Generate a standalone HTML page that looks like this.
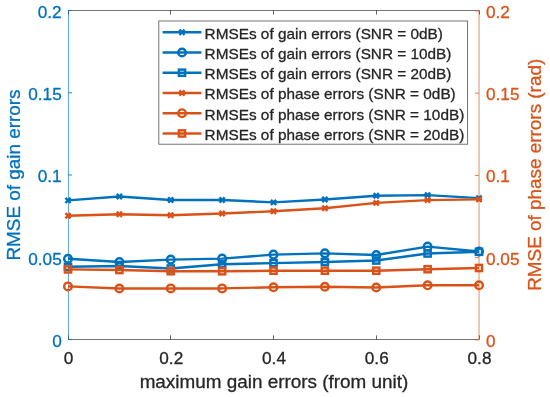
<!DOCTYPE html>
<html><head><meta charset="utf-8"><style>
html,body{margin:0;padding:0;background:#fff;}
svg{display:block;font-family:'Liberation Sans', Arial, sans-serif;}
text{stroke-width:0.3px;}
</style></head><body>
<svg width="550" height="397" viewBox="0 0 550 397">
<rect width="550" height="397" fill="#fff"/>
<line x1="68.0" y1="10.5" x2="479.0" y2="10.5" stroke="#262626" stroke-width="0.85" stroke-opacity="0.75"/>
<line x1="68.0" y1="339.5" x2="479.0" y2="339.5" stroke="#262626" stroke-width="0.85" stroke-opacity="0.75"/>
<line x1="68.50" y1="339.5" x2="68.50" y2="335.4" stroke="#262626" stroke-width="1" stroke-opacity="0.72"/>
<line x1="68.50" y1="10.5" x2="68.50" y2="14.6" stroke="#262626" stroke-width="1" stroke-opacity="0.72"/>
<line x1="170.50" y1="339.5" x2="170.50" y2="335.4" stroke="#262626" stroke-width="1" stroke-opacity="0.72"/>
<line x1="170.50" y1="10.5" x2="170.50" y2="14.6" stroke="#262626" stroke-width="1" stroke-opacity="0.72"/>
<line x1="273.50" y1="339.5" x2="273.50" y2="335.4" stroke="#262626" stroke-width="1" stroke-opacity="0.72"/>
<line x1="273.50" y1="10.5" x2="273.50" y2="14.6" stroke="#262626" stroke-width="1" stroke-opacity="0.72"/>
<line x1="376.50" y1="339.5" x2="376.50" y2="335.4" stroke="#262626" stroke-width="1" stroke-opacity="0.72"/>
<line x1="376.50" y1="10.5" x2="376.50" y2="14.6" stroke="#262626" stroke-width="1" stroke-opacity="0.72"/>
<line x1="479.50" y1="339.5" x2="479.50" y2="335.4" stroke="#262626" stroke-width="1" stroke-opacity="0.72"/>
<line x1="479.50" y1="10.5" x2="479.50" y2="14.6" stroke="#262626" stroke-width="1" stroke-opacity="0.72"/>
<line x1="68.5" y1="10.0" x2="68.5" y2="340.0" stroke="#0072BD" stroke-width="1.1" stroke-opacity="0.6"/>
<line x1="479.05" y1="10.0" x2="479.05" y2="340.0" stroke="#D95319" stroke-width="1.2" stroke-opacity="0.55"/>
<line x1="68.0" y1="339.50" x2="72.0" y2="339.50" stroke="#0072BD" stroke-width="0.85"/>
<line x1="479.0" y1="339.90" x2="474.9" y2="339.90" stroke="#D95319" stroke-width="0.9" stroke-opacity="0.8"/>
<line x1="68.0" y1="257.25" x2="72.0" y2="257.25" stroke="#0072BD" stroke-width="0.85"/>
<line x1="479.0" y1="257.65" x2="474.9" y2="257.65" stroke="#D95319" stroke-width="0.9" stroke-opacity="0.8"/>
<line x1="68.0" y1="175.00" x2="72.0" y2="175.00" stroke="#0072BD" stroke-width="0.85"/>
<line x1="479.0" y1="175.40" x2="474.9" y2="175.40" stroke="#D95319" stroke-width="0.9" stroke-opacity="0.8"/>
<line x1="68.0" y1="92.75" x2="72.0" y2="92.75" stroke="#0072BD" stroke-width="0.85"/>
<line x1="479.0" y1="93.15" x2="474.9" y2="93.15" stroke="#D95319" stroke-width="0.9" stroke-opacity="0.8"/>
<line x1="68.0" y1="10.50" x2="72.0" y2="10.50" stroke="#0072BD" stroke-width="0.85"/>
<line x1="479.0" y1="10.90" x2="474.9" y2="10.90" stroke="#D95319" stroke-width="0.9" stroke-opacity="0.8"/>
<polyline points="68.00,200.40 119.38,196.50 170.75,200.00 222.12,200.00 273.50,202.40 324.88,199.50 376.25,195.70 427.62,195.10 479.00,198.10" stroke="#0072BD" stroke-width="2.45" fill="none" stroke-linejoin="round"/><path d="M65.40 197.80L70.60 203.00M65.40 203.00L70.60 197.80" stroke="#0072BD" stroke-width="2.45" fill="none"/><path d="M116.78 193.90L121.97 199.10M116.78 199.10L121.97 193.90" stroke="#0072BD" stroke-width="2.45" fill="none"/><path d="M168.15 197.40L173.35 202.60M168.15 202.60L173.35 197.40" stroke="#0072BD" stroke-width="2.45" fill="none"/><path d="M219.53 197.40L224.72 202.60M219.53 202.60L224.72 197.40" stroke="#0072BD" stroke-width="2.45" fill="none"/><path d="M270.90 199.80L276.10 205.00M270.90 205.00L276.10 199.80" stroke="#0072BD" stroke-width="2.45" fill="none"/><path d="M322.27 196.90L327.48 202.10M322.27 202.10L327.48 196.90" stroke="#0072BD" stroke-width="2.45" fill="none"/><path d="M373.65 193.10L378.85 198.30M373.65 198.30L378.85 193.10" stroke="#0072BD" stroke-width="2.45" fill="none"/><path d="M425.02 192.50L430.23 197.70M425.02 197.70L430.23 192.50" stroke="#0072BD" stroke-width="2.45" fill="none"/><path d="M476.40 195.50L481.60 200.70M476.40 200.70L481.60 195.50" stroke="#0072BD" stroke-width="2.45" fill="none"/>
<polyline points="68.00,258.70 119.38,262.00 170.75,259.60 222.12,258.60 273.50,254.60 324.88,253.40 376.25,255.00 427.62,246.60 479.00,251.50" stroke="#0072BD" stroke-width="2.45" fill="none" stroke-linejoin="round"/><circle cx="68.00" cy="258.70" r="3.8" stroke="#0072BD" stroke-width="2.45" fill="none"/><circle cx="119.38" cy="262.00" r="3.8" stroke="#0072BD" stroke-width="2.45" fill="none"/><circle cx="170.75" cy="259.60" r="3.8" stroke="#0072BD" stroke-width="2.45" fill="none"/><circle cx="222.12" cy="258.60" r="3.8" stroke="#0072BD" stroke-width="2.45" fill="none"/><circle cx="273.50" cy="254.60" r="3.8" stroke="#0072BD" stroke-width="2.45" fill="none"/><circle cx="324.88" cy="253.40" r="3.8" stroke="#0072BD" stroke-width="2.45" fill="none"/><circle cx="376.25" cy="255.00" r="3.8" stroke="#0072BD" stroke-width="2.45" fill="none"/><circle cx="427.62" cy="246.60" r="3.8" stroke="#0072BD" stroke-width="2.45" fill="none"/><circle cx="479.00" cy="251.50" r="3.8" stroke="#0072BD" stroke-width="2.45" fill="none"/>
<polyline points="68.00,266.80 119.38,266.00 170.75,268.50 222.12,264.20 273.50,263.10 324.88,262.00 376.25,260.50 427.62,253.50 479.00,251.80" stroke="#0072BD" stroke-width="2.45" fill="none" stroke-linejoin="round"/><rect x="64.90" y="263.70" width="6.20" height="6.20" stroke="#0072BD" stroke-width="2.45" fill="none"/><rect x="116.28" y="262.90" width="6.20" height="6.20" stroke="#0072BD" stroke-width="2.45" fill="none"/><rect x="167.65" y="265.40" width="6.20" height="6.20" stroke="#0072BD" stroke-width="2.45" fill="none"/><rect x="219.03" y="261.10" width="6.20" height="6.20" stroke="#0072BD" stroke-width="2.45" fill="none"/><rect x="270.40" y="260.00" width="6.20" height="6.20" stroke="#0072BD" stroke-width="2.45" fill="none"/><rect x="321.77" y="258.90" width="6.20" height="6.20" stroke="#0072BD" stroke-width="2.45" fill="none"/><rect x="373.15" y="257.40" width="6.20" height="6.20" stroke="#0072BD" stroke-width="2.45" fill="none"/><rect x="424.52" y="250.40" width="6.20" height="6.20" stroke="#0072BD" stroke-width="2.45" fill="none"/><rect x="475.90" y="248.70" width="6.20" height="6.20" stroke="#0072BD" stroke-width="2.45" fill="none"/>
<polyline points="68.00,215.70 119.38,214.20 170.75,215.20 222.12,213.50 273.50,211.30 324.88,208.30 376.25,202.90 427.62,200.10 479.00,199.40" stroke="#D95319" stroke-width="2.45" fill="none" stroke-linejoin="round"/><path d="M65.40 213.10L70.60 218.30M65.40 218.30L70.60 213.10" stroke="#D95319" stroke-width="2.45" fill="none"/><path d="M116.78 211.60L121.97 216.80M116.78 216.80L121.97 211.60" stroke="#D95319" stroke-width="2.45" fill="none"/><path d="M168.15 212.60L173.35 217.80M168.15 217.80L173.35 212.60" stroke="#D95319" stroke-width="2.45" fill="none"/><path d="M219.53 210.90L224.72 216.10M219.53 216.10L224.72 210.90" stroke="#D95319" stroke-width="2.45" fill="none"/><path d="M270.90 208.70L276.10 213.90M270.90 213.90L276.10 208.70" stroke="#D95319" stroke-width="2.45" fill="none"/><path d="M322.27 205.70L327.48 210.90M322.27 210.90L327.48 205.70" stroke="#D95319" stroke-width="2.45" fill="none"/><path d="M373.65 200.30L378.85 205.50M373.65 205.50L378.85 200.30" stroke="#D95319" stroke-width="2.45" fill="none"/><path d="M425.02 197.50L430.23 202.70M425.02 202.70L430.23 197.50" stroke="#D95319" stroke-width="2.45" fill="none"/><path d="M476.40 196.80L481.60 202.00M476.40 202.00L481.60 196.80" stroke="#D95319" stroke-width="2.45" fill="none"/>
<polyline points="68.00,286.40 119.38,288.50 170.75,288.40 222.12,288.40 273.50,287.20 324.88,286.70 376.25,287.50 427.62,285.30 479.00,285.30" stroke="#D95319" stroke-width="2.45" fill="none" stroke-linejoin="round"/><circle cx="68.00" cy="286.40" r="3.8" stroke="#D95319" stroke-width="2.45" fill="none"/><circle cx="119.38" cy="288.50" r="3.8" stroke="#D95319" stroke-width="2.45" fill="none"/><circle cx="170.75" cy="288.40" r="3.8" stroke="#D95319" stroke-width="2.45" fill="none"/><circle cx="222.12" cy="288.40" r="3.8" stroke="#D95319" stroke-width="2.45" fill="none"/><circle cx="273.50" cy="287.20" r="3.8" stroke="#D95319" stroke-width="2.45" fill="none"/><circle cx="324.88" cy="286.70" r="3.8" stroke="#D95319" stroke-width="2.45" fill="none"/><circle cx="376.25" cy="287.50" r="3.8" stroke="#D95319" stroke-width="2.45" fill="none"/><circle cx="427.62" cy="285.30" r="3.8" stroke="#D95319" stroke-width="2.45" fill="none"/><circle cx="479.00" cy="285.30" r="3.8" stroke="#D95319" stroke-width="2.45" fill="none"/>
<polyline points="68.00,269.40 119.38,270.00 170.75,271.20 222.12,271.30 273.50,270.70 324.88,270.70 376.25,270.70 427.62,269.20 479.00,268.00" stroke="#D95319" stroke-width="2.45" fill="none" stroke-linejoin="round"/><rect x="64.90" y="266.30" width="6.20" height="6.20" stroke="#D95319" stroke-width="2.45" fill="none"/><rect x="116.28" y="266.90" width="6.20" height="6.20" stroke="#D95319" stroke-width="2.45" fill="none"/><rect x="167.65" y="268.10" width="6.20" height="6.20" stroke="#D95319" stroke-width="2.45" fill="none"/><rect x="219.03" y="268.20" width="6.20" height="6.20" stroke="#D95319" stroke-width="2.45" fill="none"/><rect x="270.40" y="267.60" width="6.20" height="6.20" stroke="#D95319" stroke-width="2.45" fill="none"/><rect x="321.77" y="267.60" width="6.20" height="6.20" stroke="#D95319" stroke-width="2.45" fill="none"/><rect x="373.15" y="267.60" width="6.20" height="6.20" stroke="#D95319" stroke-width="2.45" fill="none"/><rect x="424.52" y="266.10" width="6.20" height="6.20" stroke="#D95319" stroke-width="2.45" fill="none"/><rect x="475.90" y="264.90" width="6.20" height="6.20" stroke="#D95319" stroke-width="2.45" fill="none"/>
<text x="61.7" y="346.80" text-anchor="end" fill="#0072BD" stroke="#0072BD" font-size="17.2">0</text>
<text x="486" y="346.80" fill="#D95319" stroke="#D95319" font-size="17.2">0</text>
<text x="61.7" y="264.55" text-anchor="end" fill="#0072BD" stroke="#0072BD" font-size="17.2">0.05</text>
<text x="486" y="264.55" fill="#D95319" stroke="#D95319" font-size="17.2">0.05</text>
<text x="61.7" y="182.30" text-anchor="end" fill="#0072BD" stroke="#0072BD" font-size="17.2">0.1</text>
<text x="486" y="182.30" fill="#D95319" stroke="#D95319" font-size="17.2">0.1</text>
<text x="61.7" y="100.05" text-anchor="end" fill="#0072BD" stroke="#0072BD" font-size="17.2">0.15</text>
<text x="486" y="100.05" fill="#D95319" stroke="#D95319" font-size="17.2">0.15</text>
<text x="61.7" y="17.80" text-anchor="end" fill="#0072BD" stroke="#0072BD" font-size="17.2">0.2</text>
<text x="486" y="17.80" fill="#D95319" stroke="#D95319" font-size="17.2">0.2</text>
<text x="68.50" y="364" text-anchor="middle" fill="#262626" stroke="#262626" font-size="17.2">0</text>
<text x="171.25" y="364" text-anchor="middle" fill="#262626" stroke="#262626" font-size="17.2">0.2</text>
<text x="274.00" y="364" text-anchor="middle" fill="#262626" stroke="#262626" font-size="17.2">0.4</text>
<text x="376.75" y="364" text-anchor="middle" fill="#262626" stroke="#262626" font-size="17.2">0.6</text>
<text x="479.50" y="364" text-anchor="middle" fill="#262626" stroke="#262626" font-size="17.2">0.8</text>
<text x="274" y="388" text-anchor="middle" fill="#262626" stroke="#262626" font-size="18.9">maximum gain errors (from unit)</text>
<text transform="translate(20.2 175) rotate(-90)" text-anchor="middle" fill="#0072BD" stroke="#0072BD" font-size="18.9">RMSE of gain errors</text>
<text transform="translate(541.4 174.8) rotate(-90)" text-anchor="middle" fill="#D95319" stroke="#D95319" font-size="18.9">RMSE of phase errors (rad)</text>
<rect x="158.8" y="21.0" width="308.8" height="123.19999999999999" fill="#fff" stroke="#262626" stroke-width="0.85" stroke-opacity="0.75"/>
<line x1="162.6" y1="32.20" x2="201.4" y2="32.20" stroke="#0072BD" stroke-width="2.45"/>
<path d="M179.40 29.60L184.60 34.80M179.40 34.80L184.60 29.60" stroke="#0072BD" stroke-width="2.45" fill="none"/>
<text x="204.6" y="38.60" fill="#262626" stroke="#262626" font-size="15.35">RMSEs of gain errors (SNR = 0dB)</text>
<line x1="162.6" y1="52.45" x2="201.4" y2="52.45" stroke="#0072BD" stroke-width="2.45"/>
<circle cx="182.00" cy="52.45" r="3.8" stroke="#0072BD" stroke-width="2.45" fill="none"/>
<text x="204.6" y="58.85" fill="#262626" stroke="#262626" font-size="15.35">RMSEs of gain errors (SNR = 10dB)</text>
<line x1="162.6" y1="72.70" x2="201.4" y2="72.70" stroke="#0072BD" stroke-width="2.45"/>
<rect x="178.90" y="69.60" width="6.20" height="6.20" stroke="#0072BD" stroke-width="2.45" fill="none"/>
<text x="204.6" y="79.10" fill="#262626" stroke="#262626" font-size="15.35">RMSEs of gain errors (SNR = 20dB)</text>
<line x1="162.6" y1="92.95" x2="201.4" y2="92.95" stroke="#D95319" stroke-width="2.45"/>
<path d="M179.40 90.35L184.60 95.55M179.40 95.55L184.60 90.35" stroke="#D95319" stroke-width="2.45" fill="none"/>
<text x="204.6" y="99.35" fill="#262626" stroke="#262626" font-size="15.35">RMSEs of phase errors (SNR = 0dB)</text>
<line x1="162.6" y1="113.20" x2="201.4" y2="113.20" stroke="#D95319" stroke-width="2.45"/>
<circle cx="182.00" cy="113.20" r="3.8" stroke="#D95319" stroke-width="2.45" fill="none"/>
<text x="204.6" y="119.60" fill="#262626" stroke="#262626" font-size="15.35">RMSEs of phase errors (SNR = 10dB)</text>
<line x1="162.6" y1="133.45" x2="201.4" y2="133.45" stroke="#D95319" stroke-width="2.45"/>
<rect x="178.90" y="130.35" width="6.20" height="6.20" stroke="#D95319" stroke-width="2.45" fill="none"/>
<text x="204.6" y="139.85" fill="#262626" stroke="#262626" font-size="15.35">RMSEs of phase errors (SNR = 20dB)</text>
</svg>
</body></html>
